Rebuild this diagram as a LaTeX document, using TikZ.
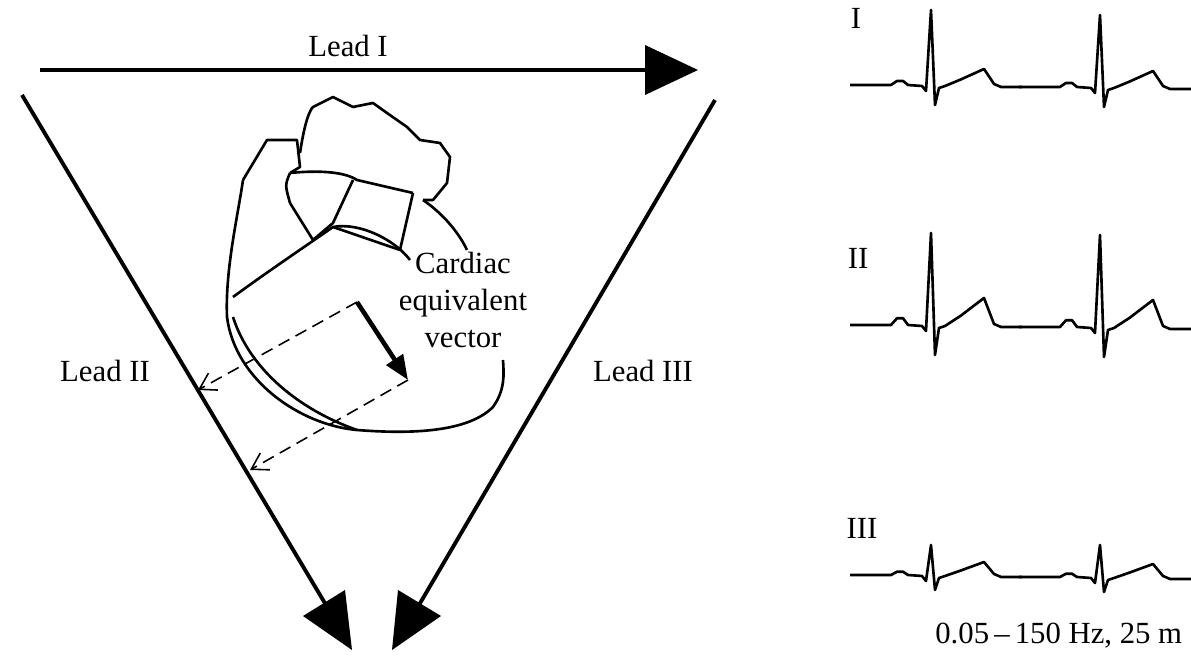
\documentclass[tikz,border=0pt]{standalone}
\usepackage{fontspec}
\setmainfont{Liberation Serif}
\usetikzlibrary{arrows.meta}
\begin{document}
\begin{tikzpicture}[x=0.02cm,y=-0.02cm,
  lead/.style={line width=2.2pt},
  head/.style={fill=black},
  heart/.style={line width=1.5pt,line join=round},
  proj/.style={dashed,dash pattern=on 7pt off 4pt,line width=0.9pt,-{Straight Barb[length=9pt,width=11pt]}},
  ecg/.style={line width=1.5pt,line join=round},
  lbl/.style={font=\fontsize{17.5}{20}\selectfont,inner sep=0pt}]
\useasboundingbox (0,0) rectangle (1191,661);
% leads
\coordinate (l1a) at (40,70); \coordinate (l1b) at (650,70);
\draw[lead] (l1a) -- (l1b);
\fill[head] (645,45) -- (698,70) -- (645,95) -- cycle;
\coordinate (l2a) at (22,95); \coordinate (l2b) at (326,605);
\draw[lead] (l2a) -- (l2b);
\fill[head] (345,590) -- (352,650) -- (303,616) -- cycle;
\coordinate (l3a) at (715,100); \coordinate (l3b) at (419,605);
\draw[lead] (l3a) -- (l3b);
\fill[head] (441,616) -- (392,650) -- (398,590) -- cycle;
\node[lbl] (t1) at (348,46) {Lead I};
\node[lbl] (t2) at (105,371) {Lead II};
\node[lbl] (t3) at (643,371) {Lead III};
\node[lbl,align=center,font=\fontsize{17.5}{21}\selectfont] (cv) at (463,300) {Cardiac\\equivalent\\vector};
% heart
\draw[heart] (243,180) -- (267,140) -- (297,140) -- (300,167) -- (290,173);
\draw[heart] (300,153) .. controls (305,120) and (310,110) .. (313,107) -- (333,97) -- (353,107) -- (373,103) -- (387,113) -- (407,127) -- (420,140) -- (440,143) -- (450,157) -- (447,183) -- (433,200) -- (423,200);
\draw[heart] (290,173) .. controls (320,170) and (345,172) .. (357,180) -- (413,193);
\draw[heart] (290,203) .. controls (285,185) .. (290,173);
\draw[heart] (290,203) -- (313,240) -- (333,223) -- (353,180);
\draw[heart] (333,227) -- (400,250) -- (413,193);
\draw[heart] (423,200) .. controls (445,215) and (460,235) .. (467,250);
\draw[heart] (243,180) .. controls (238,215) and (225,270) .. (227,317)
  .. controls (235,380) and (300,425) .. (357,430)
  .. controls (420,435) and (470,430) .. (493,407)
  .. controls (505,390) and (504,375) .. (503,360);
\draw[heart] (233,297) .. controls (270,270) and (300,250) .. (333,227)
  .. controls (360,222) and (395,240) .. (410,260);
\draw[heart] (233,317) .. controls (250,370) and (300,410) .. (357,430);
% vectors
\coordinate (va) at (357,302); \coordinate (vb) at (408,380);
\coordinate (pa) at (198,390); \coordinate (pb) at (250,470);
\draw[line width=2.6pt,-{Triangle[length=14pt,width=11pt]}] (va) -- (vb);
\draw[proj] (va) -- (pa);
\draw[proj] (vb) -- (pb);
% ECG
\newcommand\ecgbeat[5]{%
 \draw[ecg] (#1-81,#2) -- (#1-40,#2) -- (#1-34,#2-#5*0.25) -- (#1-28,#2-#5*0.25) -- (#1-23,#2) -- (#1-9,#2+1) -- (#1-5,#2+6) -- (#1,#2-#3) -- (#1+4,#2+#4) -- (#1+8,#2+3) -- (#1+14,#2+1) -- (#1+30,#2-#5*0.35) -- (#1+53,#2-#5) -- (#1+63,#2-1) -- (#1+70,#2+2) -- (#1+91,#2+2);}
\ecgbeat{931}{85}{75}{20}{16}
\ecgbeat{1100}{87}{72}{20}{16}
\ecgbeat{931}{325}{92}{30}{27}
\ecgbeat{1100}{327}{92}{30}{27}
\ecgbeat{931}{575}{30}{15}{13}
\ecgbeat{1100}{577}{32}{15}{13}
\node[lbl] (e1) at (856,18) {I};
\node[lbl] (e2) at (858,258) {II};
\node[lbl] (e3) at (862,528) {III};
\node[lbl,anchor=west] (hz) at (935,636) {0.05\,–\,150 Hz, 25 m};
\end{tikzpicture}
\end{document}
